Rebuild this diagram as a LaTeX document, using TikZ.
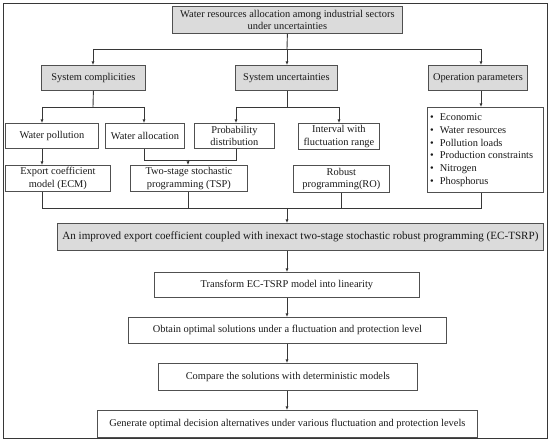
\documentclass[tikz,border=0pt]{standalone}
\usepackage{fontspec}
\setmainfont{Liberation Serif}
\usetikzlibrary{arrows.meta}
\definecolor{boxgray}{RGB}{219,219,219}
\definecolor{linegray}{RGB}{55,55,55}
\definecolor{bordergray}{RGB}{80,80,80}
\definecolor{txt}{RGB}{25,25,25}
\begin{document}
\begin{tikzpicture}[x=1pt,y=-1pt,
  box/.style={draw=bordergray, line width=0.8pt, anchor=north west, inner sep=1pt,
    align=center, text=txt, font=\fontsize{10.4}{12.5}\selectfont},
  gbox/.style={box, fill=boxgray},
  ln/.style={draw=linegray, line width=0.9pt},
  arr/.style={ln, -{Latex[length=3.5pt,width=3pt]}}]
\useasboundingbox (0,0) rectangle (550,441);
\node[draw=linegray, line width=1.2pt, anchor=north west, minimum width=544pt, minimum height=435pt, inner sep=0pt] (frame) at (3,3) {};

% nodes
\node[gbox, minimum width=230pt, minimum height=27pt] (top) at (172,6) {Water resources allocation among industrial sectors\\under uncertainties};
\node[gbox, minimum width=104pt, minimum height=25pt] (sc) at (41,65) {System complicities};
\node[gbox, minimum width=102pt, minimum height=25pt] (su) at (235,65) {System uncertainties};
\node[gbox, minimum width=99pt, minimum height=25pt] (op) at (428,65) {Operation parameters};
\node[box, minimum width=93pt, minimum height=25pt] (wp) at (5,123) {Water pollution};
\node[box, minimum width=79pt, minimum height=25pt] (wa) at (105,123) {Water allocation};
\node[box, minimum width=80pt, minimum height=25pt] (pd) at (194,123) {Probability\\distribution};
\node[box, minimum width=81pt, minimum height=26pt] (iv) at (298,123) {Interval with\\fluctuation range};
\node[box, minimum width=116pt, minimum height=85pt] (list) at (427,107) {};
\node[anchor=west, inner sep=0pt, text=txt, font=\fontsize{10.4}{12.8}\selectfont] (items) at (430,150)
  {\begin{tabular}{@{}l@{\hspace{6pt}}l@{}}
  •&Economic\\
  •&Water resources\\
  •&Pollution loads\\
  •&Production constraints\\
  •&Nitrogen\\
  •&Phosphorus
  \end{tabular}};
\node[box, minimum width=105pt, minimum height=26pt] (ecm) at (5,165) {Export coefficient\\model (ECM)};
\node[box, minimum width=117pt, minimum height=26pt] (tsp) at (130,165) {Two-stage stochastic\\programming (TSP)};
\node[box, minimum width=96pt, minimum height=27pt] (ro) at (293,165) {Robust\\programming(RO)};
\node[gbox, minimum width=486pt, minimum height=27pt, font=\fontsize{11.1}{13}\selectfont] (ec) at (57,223) {An improved export coefficient coupled with inexact two-stage stochastic robust programming (EC-TSRP)};
\node[box, minimum width=265pt, minimum height=25pt] (tr) at (154,272) {Transform EC-TSRP model into linearity};
\node[box, minimum width=318pt, minimum height=26pt] (ob) at (128,317) {Obtain optimal solutions under a fluctuation and protection level};
\node[box, minimum width=259pt, minimum height=27pt] (cmp) at (158,363) {Compare the solutions with deterministic models};
\node[box, minimum width=380pt, minimum height=27pt] (gen) at (97,410) {Generate optimal decision alternatives under various fluctuation and protection levels};

% junction coordinates
\coordinate (t0) at (287,49);
\coordinate (tl) at (93,49);
\coordinate (tr0) at (481,49);
\coordinate (s0) at (93,107);
\coordinate (sl) at (42,107);
\coordinate (sr) at (144,107);
\coordinate (u0) at (287,107);
\coordinate (ul) at (236,107);
\coordinate (ur) at (339,107);
\coordinate (wl) at (144,160);
\coordinate (wm) at (188,160);
\coordinate (wr) at (236,160);
\coordinate (bl) at (42,208);
\coordinate (bm) at (287,208);
\coordinate (br) at (481,208);

% connectors level 1
\draw[ln] (top.south) -- (t0);
\draw[ln] (tl) -- (tr0);
\draw[arr] (tl) -- (tl |- sc.north);
\draw[arr] (t0) -- (t0 |- su.north);
\draw[arr] (tr0) -- (tr0 |- op.north);

% level 2
\draw[ln] (sc.south) -- (s0);
\draw[ln] (sl) -- (sr);
\draw[arr] (sl) -- (sl |- wp.north);
\draw[arr] (sr) -- (sr |- wa.north);
\draw[ln] (su.south -| u0) -- (u0);
\draw[ln] (ul) -- (ur);
\draw[arr] (ul) -- (ul |- pd.north);
\draw[arr] (ur) -- (ur |- iv.north);
\draw[arr] (op.south -| tr0) -- (tr0 |- list.north);

% level 3
\draw[arr] (wp.south -| sl) -- (sl |- ecm.north);
\draw[ln] (wa.south -| wl) -- (wl) -- (wr) -- (wr |- pd.south);
\draw[arr] (wm) -- (wm |- tsp.north);

% join
\draw[ln] (ecm.south -| bl) -- (bl) -- (br) -- (br |- list.south);
\draw[ln] (tsp.south) -- (tsp.south |- bl);
\draw[ln] (ro.south) -- (ro.south |- bl);
\draw[arr] (bm) -- (bm |- ec.north);

% main chain
\draw[arr] (ec.south -| bm) -- (bm |- tr.north);
\draw[arr] (tr.south -| bm) -- (bm |- ob.north);
\draw[arr] (ob.south -| bm) -- (bm |- cmp.north);
\draw[arr] (cmp.south -| bm) -- (bm |- gen.north);
\end{tikzpicture}
\end{document}
